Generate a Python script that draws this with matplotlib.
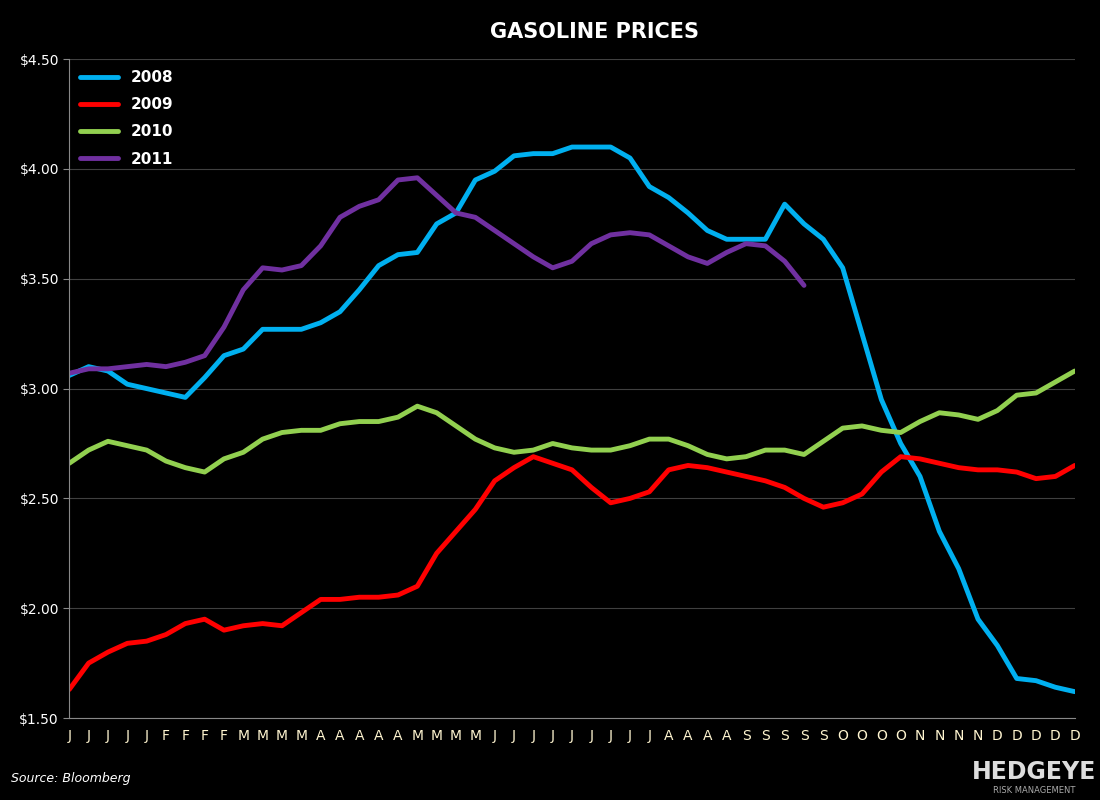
import matplotlib
matplotlib.use("Agg")
import matplotlib.pyplot as plt

tick_labels = list("JJJJJFFFFMMMMAAAAAMMMMJJJJJJJJJAAAASSSSSOOOONNNND")
tick_labels = (["J"]*5 + ["F"]*4 + ["M"]*4 + ["A"]*5 + ["M"]*4 + ["J"]*9 +
               ["A"]*4 + ["S"]*5 + ["O"]*4 + ["N"]*4 + ["D"]*5)
y2008 = [3.06,3.10,3.08,3.02,3.00,2.98,2.96,3.05,3.15,3.18,3.27,3.27,3.27,3.30,3.35,3.45,3.56,3.61,
         3.62,3.75,3.80,3.95,3.99,4.06,4.07,4.07,4.10,4.10,4.10,4.05,3.92,3.87,3.80,3.72,3.68,3.68,
         3.68,3.84,3.75,3.68,3.55,3.25,2.95,2.75,2.60,2.35,2.18,1.95,1.83,1.68,1.67,1.64,1.62]
y2009 = [1.63,1.75,1.80,1.84,1.85,1.88,1.93,1.95,1.90,1.92,1.93,1.92,1.98,2.04,2.04,2.05,2.05,2.06,
         2.10,2.25,2.35,2.45,2.58,2.64,2.69,2.66,2.63,2.55,2.48,2.50,2.53,2.63,2.65,2.64,2.62,2.60,
         2.58,2.55,2.50,2.46,2.48,2.52,2.62,2.69,2.68,2.66,2.64,2.63,2.63,2.62,2.59,2.60,2.65]
y2010 = [2.66,2.72,2.76,2.74,2.72,2.67,2.64,2.62,2.68,2.71,2.77,2.80,2.81,2.81,2.84,2.85,2.85,2.87,
         2.92,2.89,2.83,2.77,2.73,2.71,2.72,2.75,2.73,2.72,2.72,2.74,2.77,2.77,2.74,2.70,2.68,2.69,
         2.72,2.72,2.70,2.76,2.82,2.83,2.81,2.80,2.85,2.89,2.88,2.86,2.90,2.97,2.98,3.03,3.08]
y2011 = [3.07,3.09,3.09,3.10,3.11,3.10,3.12,3.15,3.28,3.45,3.55,3.54,3.56,3.65,3.78,3.83,3.86,3.95,
         3.96,3.88,3.80,3.78,3.72,3.66,3.60,3.55,3.58,3.66,3.70,3.71,3.70,3.65,3.60,3.57,3.62,3.66,
         3.65,3.58,3.47]
series = [("2008", y2008, "#00B0F0"), ("2009", y2009, "#FF0000"),
          ("2010", y2010, "#92D050"), ("2011", y2011, "#7030A0")]

fig = plt.figure(figsize=(11, 8), dpi=100, facecolor="black")
ax = fig.add_axes([0.063, 0.1025, 0.914, 0.8235], facecolor="black")
for name, ys, c in series:
    ax.plot(range(len(ys)), ys, color=c, lw=3.5, label=name, solid_capstyle="round")
ax.set_xlim(0, len(tick_labels) - 1)
ax.set_ylim(1.5, 4.5)
ax.set_yticks([1.5, 2.0, 2.5, 3.0, 3.5, 4.0, 4.5])
ax.set_yticklabels([f"${v:.2f}" for v in ax.get_yticks()], color="white", fontsize=10)
ax.set_xticks(range(len(tick_labels)))
ax.set_xticklabels(tick_labels, color="#FFF5D0", fontsize=10)
ax.tick_params(axis="x", length=0, pad=8)
ax.tick_params(axis="y", length=4, color="#888888")
ax.grid(axis="y", color="#404040", lw=0.8)
for s in ["top", "right"]:
    ax.spines[s].set_visible(False)
ax.spines["left"].set_color("#888888")
ax.spines["bottom"].set_color("#888888")
leg = ax.legend(loc="upper left", frameon=False, handlelength=2.5, fontsize=11,
                borderaxespad=0.3, labelspacing=0.8)
for t in leg.get_texts():
    t.set_color("white"); t.set_fontweight("bold")
fig.text(0.54, 0.96, "GASOLINE PRICES", color="white", fontsize=15, fontweight="bold",
         ha="center", va="center")
fig.text(0.01, 0.027, "Source: Bloomberg", color="white", fontsize=9, style="italic", va="center")
fig.text(0.94, 0.035, "HEDGEYE", color="#DDDDDD", fontsize=17, fontweight="bold", ha="center", va="center")
fig.text(0.94, 0.012, "RISK MANAGEMENT", color="#AAAAAA", fontsize=6, ha="center", va="center")
fig.savefig("out.png", facecolor="black")
